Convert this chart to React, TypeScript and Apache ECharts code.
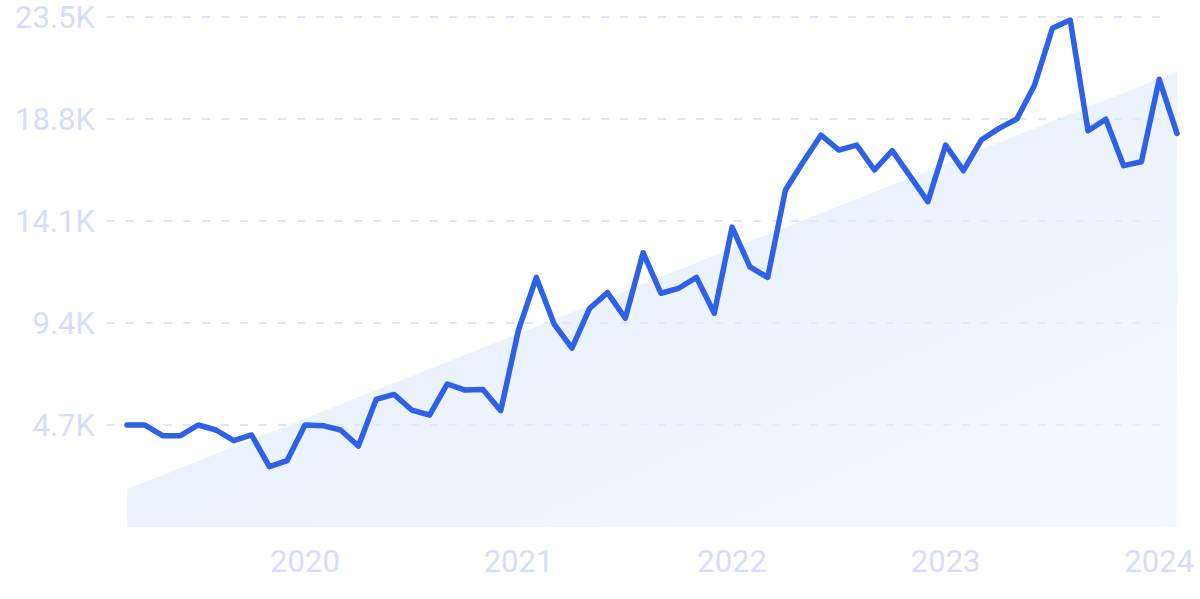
import React, { useEffect, useRef } from "react";
import * as echarts from "echarts";

const months: string[] = [
  "2019-03","2019-04","2019-05","2019-06","2019-07","2019-08","2019-09","2019-10","2019-11","2019-12",
  "2020-01","2020-02","2020-03","2020-04","2020-05","2020-06","2020-07","2020-08","2020-09","2020-10","2020-11","2020-12",
  "2021-01","2021-02","2021-03","2021-04","2021-05","2021-06","2021-07","2021-08","2021-09","2021-10","2021-11","2021-12",
  "2022-01","2022-02","2022-03","2022-04","2022-05","2022-06","2022-07","2022-08","2022-09","2022-10","2022-11","2022-12",
  "2023-01","2023-02","2023-03","2023-04","2023-05","2023-06","2023-07","2023-08","2023-09","2023-10","2023-11","2023-12",
  "2024-01","2024-02",
];

const searches: number[] = [
  4700, 4700, 4210, 4210, 4700, 4470, 3980, 4240, 2780, 3060,
  4700, 4670, 4470, 3730, 5880, 6110, 5390, 5160, 6590, 6310, 6340, 5360,
  9080, 11500, 9350, 8240, 10080, 10800, 9620, 12640, 10770, 11000, 11500, 9850,
  13820, 11990, 11500, 15530, 16830, 18060, 17370, 17600, 16450, 17340, 16170, 14990,
  17600, 16420, 17830, 18370, 18800, 20370, 22980, 23360, 18260, 18790, 16650, 16830,
  20630, 18140,
];

const trendStart = 1740;
const trendEnd = 20980;

const yTicks = { min: 0, max: 23500, interval: 4700 };

const LABEL_COLOR = "#d6def7";
const GRID_COLOR = "#cfe0fa";
const FONT = "Roboto, 'Noto Sans', sans-serif";

export default function App() {
  const ref = useRef<HTMLDivElement>(null);

  useEffect(() => {
    if (!ref.current) return;
    const chart = echarts.init(ref.current, undefined, { renderer: "svg" });
    chart.setOption({
      animation: false,
      backgroundColor: "#ffffff",
      grid: [
        { left: 127, right: 23, top: 17, bottom: 72 },
        { left: 107, right: 35, top: 17, bottom: 72 },
      ],
      xAxis: [
        {
          type: "category",
          gridIndex: 0,
          data: months,
          boundaryGap: false,
          axisLine: { show: false },
          axisTick: { show: false },
          splitLine: { show: false },
          axisLabel: {
            color: LABEL_COLOR,
            fontSize: 31,
            fontWeight: 400,
            fontFamily: FONT,
            margin: 19,
            interval: (idx: number, val: string) => val.endsWith("-01"),
            formatter: (val: string) => val.slice(0, 4),
          },
        },
        { type: "value", gridIndex: 1, min: 0, max: 1, show: false },
      ],
      yAxis: [
        { type: "value", gridIndex: 0, min: yTicks.min, max: yTicks.max, show: false },
        {
          type: "value",
          gridIndex: 1,
          min: yTicks.min,
          max: yTicks.max,
          interval: yTicks.interval,
          axisLine: { show: false },
          axisTick: { show: false },
          splitLine: {
            show: true,
            showMinLine: false,
            lineStyle: { color: GRID_COLOR, type: [8, 11], width: 1.5 },
          },
          axisLabel: {
            color: LABEL_COLOR,
            fontSize: 31,
            fontWeight: 400,
            fontFamily: FONT,
            margin: 12,
            showMinLabel: false,
            formatter: (v: number) => (v === 0 ? "" : (v / 1000).toFixed(1) + "K"),
          },
        },
      ],
      series: [
        {
          type: "line",
          xAxisIndex: 0,
          yAxisIndex: 0,
          data: [
            [months[0], trendStart],
            [months[months.length - 1], trendEnd],
          ],
          symbol: "none",
          lineStyle: { width: 0, opacity: 0 },
          areaStyle: {
            color: new echarts.graphic.LinearGradient(0, 0, 1, 1, [
              { offset: 0, color: "rgba(210,227,250,0.75)" },
              { offset: 1, color: "rgba(240,246,255,0.6)" },
            ]),
            opacity: 1,
          },
          z: 1,
        },
        {
          type: "line",
          xAxisIndex: 0,
          yAxisIndex: 0,
          data: searches,
          symbol: "none",
          lineStyle: { width: 5.5, color: "#2e61e5", cap: "round", join: "round" },
          z: 3,
        },
      ],
    });
    return () => chart.dispose();
  }, []);

  return (
    <div
      ref={ref}
      style={{ position: "absolute", left: 0, top: 0, width: 1200, height: 599 }}
    />
  );
}
